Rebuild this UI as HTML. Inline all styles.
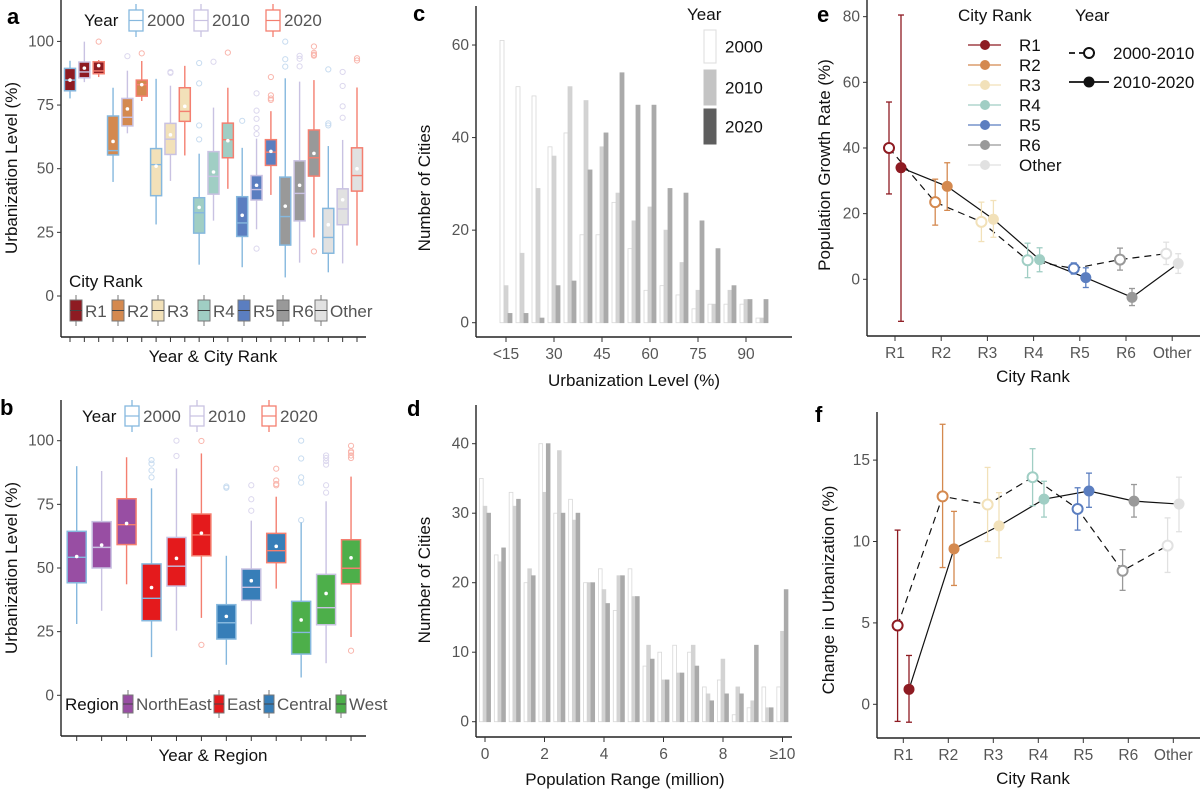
<!DOCTYPE html>
<html><head><meta charset="utf-8"><style>
html,body{margin:0;padding:0;background:#fff;}
svg{display:block;font-family:"Liberation Sans",Arial,sans-serif;}
</style></head><body>
<svg id="fig" width="1200" height="792" viewBox="0 0 1200 792" xmlns="http://www.w3.org/2000/svg"></svg>
<script>
// ---------- Panel a data ----------
const aGroups = ["R1","R1","R1","R2","R2","R2","R3","R3","R3","R4","R4","R4","R5","R5","R5","R6","R6","R6","Other","Other","Other"];
const aMed = [84.8,88,88.4,57.1,70.2,83,51.6,61.6,72.5,32.7,47,61.4,28.7,41.8,56.5,31.2,40.3,54.3,23,34.2,47.3];
const aQ1 = [80.6,85.7,87.3,55.4,66.8,78.5,39.4,55.6,68.6,24.7,40,54.3,23.4,37.7,51.3,20,29.5,47.1,16.8,28,41.2];
const aQ3 = [89.4,91.9,92,70.7,77.6,84.8,57.9,67.8,81.8,38.6,56.7,67.9,39,47.3,61.4,46.7,53.1,65.2,34.4,42.1,58.2];
const aLo = [77.6,84,86,44.8,63.9,76.6,28.1,45.2,55.2,12.3,29.6,42.1,11.3,26.2,39.7,7.3,13.1,23,9.3,12.8,19.8];
const aHi = [92.4,99.9,92.7,81.8,88.5,92.3,85.3,82.6,90.4,55.9,74,81.8,58.2,61.8,72.6,85.5,84.2,84.8,58.9,61.3,81.9];
const aMean = [84.8,89.5,90.5,60.7,73.5,83,51,63.3,74.5,34.8,48.7,61,31.7,43.5,56.8,35.3,43.5,56,28,37.8,50];
const aOut = [[],[],[99.9],[],[94.2],[95.3],[],[88,87.6],[],[91.5,83.5,67,61.5],[92],[95.6],[68.8],[79.6,72.8,69.6,66,63.6,18.6],[86,78.8,77.6,77],[99.9,93,90.1],[94.3,93.2,90.2],[98,95.5,94.8,94.4,17.5],[89,67.8,67],[88,82.5,74.5,70],[93.4,92.5]];
const aTicks = [0,25,50,75,100];
// ---------- Panel b data ----------
const bGroups = ["NorthEast","NorthEast","NorthEast","East","East","East","Central","Central","Central","West","West","West"];
const bMed = [54.2,58.1,67,38.1,50.7,63,28.5,42.4,56.8,24.7,34.4,49.9];
const bQ1 = [44.2,50,59.2,29.3,42.9,54.8,22.1,37.3,52.1,16.2,27.7,43.8];
const bQ3 = [64.4,68.2,77.2,51.6,62,71.2,35.6,49.6,63.6,36.9,47.5,61.1];
const bLo = [28,33.2,43.6,15,25.4,30.4,12,27.9,41.9,7,12.6,22.9];
const bHi = [90,88.1,93.5,81.3,89.1,95,54.8,68.6,78,67.9,76.2,85.9];
const bMean = [54.5,59,67.5,42.3,53.8,63.7,31,45,58.5,29.6,40,54];
const bOut = [[],[],[],[92.4,91,88.3,85.6],[100,94],[99.9,19.8],[82,81.5],[82.5,77,72.5],[89,84.4,83,82.5],[100,93,85.6,83.5,68.8],[94.2,93.2,92,90.6,82.5,79.6],[98,95.8,95.3,94.2,93.2,17.5]];
// ---------- Panel c data ----------
const cTickLabels = ["<15","30","45","60","75","90"];
const c2000 = [61,51,49,38,41,19,19,26,16,7,8,6,3,4,4,4,1];
const c2010 = [8,15,29,36,51,48,38,28,22,25,20,13,7,4,7,5,1];
const c2020 = [2,2,1,8,9,33,41,54,47,47,29,28,22,16,8,5,5];
const cYTicks = [0,20,40,60];
// ---------- Panel d data ----------
const dTickLabels = ["0","2","4","6","8","≥10"];
const d2000 = [35,24,33,20,40,30,32,20,22,16,22,8,10,11,10,5,6,1,2,5,5];
const d2010 = [31,23,31,22,33,39,29,20,19,21,18,11,6,7,11,4,9,5,3,2,13];
const d2020 = [30,25,32,21,40,30,30,20,17,21,18,9,6,7,8,3,4,4,11,2,19];
const dYTicks = [0,10,20,30,40];
// ---------- Panel e data ----------
const ranks = ["R1","R2","R3","R4","R5","R6","Other"];
const eOpen = [40,23.5,17.5,5.8,3.3,6,7.8];
const eOpenLo = [26,16.5,11.5,0.5,1.6,2.8,4.5];
const eOpenHi = [54,30.5,23.5,11,5,9.5,11.3];
const eFill = [34,28.3,18.3,6,0.5,-5.5,4.8];
const eFillLo = [-12.8,21,12.8,2.3,-2.5,-8,1.8];
const eFillHi = [80.5,35.5,24,9.6,3.5,-2.8,7.8];
const eYTicks = [0,20,40,60,80];
// ---------- Panel f data ----------
const fOpen = [4.84,12.77,12.27,13.95,12,8.2,9.75];
const fOpenLo = [-1.05,8.4,10,12.2,10.7,7,8.1];
const fOpenHi = [10.7,17.2,14.55,15.7,13.3,9.5,11.45];
const fFill = [0.92,9.55,10.96,12.6,13.1,12.48,12.3];
const fFillLo = [-1.1,7.3,9,11.5,12.1,11.5,10.6];
const fFillHi = [3,11.85,13,13.7,14.2,13.5,13.95];
const fYTicks = [0,5,10,15];

const rankColor = {R1:"#8e1b22",R2:"#d4894f",R3:"#f2e1b9",R4:"#a0cec4",R5:"#5b7ec0",R6:"#999999",Other:"#e1e1e1"};
const regionColor = {NorthEast:"#984ea3",East:"#e41a1c",Central:"#377eb8",West:"#4daf4a"};
const yearColor = ["#86b8de","#c9c2e2","#f47f70"];
const yearOut = ["#c8dcf0","#dcd8ee","#f9b6ad"];

const svg = document.getElementById('fig');
const NS = "http://www.w3.org/2000/svg";
function mk(tag, attrs, name, parent) {
  const el = document.createElementNS(NS, tag);
  for (const k in attrs) el.setAttribute(k, attrs[k]);
  
  
  (parent || svg).appendChild(el);
  return el;
}
function txt(x, y, s, name, opts) {
  opts = opts || {};
  const t = mk('text', {x:x, y:y, 'font-size':opts.size||15, fill:opts.fill||'#555', 'text-anchor':opts.anchor||'middle', 'font-weight':opts.weight||'normal'}, name);
  if (opts.rot) t.setAttribute('transform', 'rotate(-90 '+x+' '+y+')');
  t.textContent = s;
  return t;
}
function axes(x0, yTop, yBot, xRight, name) {
  mk('line', {x1:x0, y1:yTop, x2:x0, y2:yBot, stroke:'#222', 'stroke-width':1.4}, name+'-y-axis');
  mk('line', {x1:x0, y1:yBot, x2:xRight, y2:yBot, stroke:'#222', 'stroke-width':1.4}, name+'-x-axis');
}
function yTicksDraw(x0, ticks, yf, name) {
  ticks.forEach(v => {
    mk('line', {x1:x0-4, y1:yf(v), x2:x0, y2:yf(v), stroke:'#333', 'stroke-width':1}, name+'-y-tick');
    txt(x0-7, yf(v)+5, String(v), name+'-y-tick-label', {anchor:'end', size:15.5});
  });
}

function boxPanel(p) {
  const yf = v => p.y0 - v * p.k;
  axes(p.ax, p.axTop, p.axBot, p.axRight, p.name);
  yTicksDraw(p.ax, aTicks, yf, p.name);
  const n = p.med.length;
  for (let i = 0; i < n; i++) {
    const cx = p.x0 + i * p.dx, yr = i % 3, col = yearColor[yr], fill = p.fill[p.groups[i]];
    mk('line', {x1:cx, y1:p.axBot, x2:cx, y2:p.axBot+5, stroke:'#333', 'stroke-width':1}, p.name+'-x-tick');
    p.out[i].forEach(v => mk('circle', {cx:cx, cy:yf(v), r:2.6, fill:'none', stroke:yearOut[yr], 'stroke-width':1}, p.name+'-outlier'));
    mk('line', {x1:cx, y1:yf(p.hi[i]), x2:cx, y2:yf(p.q3[i]), stroke:col, 'stroke-width':1.4}, p.name+'-whisker-upper');
    mk('line', {x1:cx, y1:yf(p.q1[i]), x2:cx, y2:yf(p.lo[i]), stroke:col, 'stroke-width':1.4}, p.name+'-whisker-lower');
    mk('rect', {x:cx-p.bw/2, y:yf(p.q3[i]), width:p.bw, height:yf(p.q1[i])-yf(p.q3[i]), fill:fill, stroke:col, 'stroke-width':1.5}, p.name+'-box');
    mk('line', {x1:cx-p.bw/2, y1:yf(p.med[i]), x2:cx+p.bw/2, y2:yf(p.med[i]), stroke:col, 'stroke-width':1.4}, p.name+'-median');
    mk('circle', {cx:cx, cy:yf(p.mean[i]), r:1.8, fill:'#fff'}, p.name+'-mean-dot');
  }
}
function yearKey(x, yT, yB, col, name) {
  const ym = (yT + yB) / 2;
  mk('line', {x1:x+7, y1:yT-6, x2:x+7, y2:yB+6, stroke:col, 'stroke-width':1.3}, name);
  mk('rect', {x:x, y:yT, width:14, height:yB-yT, fill:'#fff', stroke:col, 'stroke-width':1.3}, name);
  mk('line', {x1:x, y1:ym, x2:x+14, y2:ym, stroke:col, 'stroke-width':1.2}, name);
}
function fillKey(x, yT, yB, w, col, name) {
  const ym = (yT + yB) / 2;
  mk('line', {x1:x+w/2, y1:yT-5, x2:x+w/2, y2:yB+5, stroke:'#777', 'stroke-width':1}, name);
  mk('rect', {x:x, y:yT, width:w, height:yB-yT, fill:col, stroke:'#777', 'stroke-width':1}, name);
  mk('line', {x1:x, y1:ym, x2:x+w, y2:ym, stroke:'#444', 'stroke-width':1}, name);
}

// Panel a
boxPanel({name:'panel-a', y0:296, k:2.546, ax:61, axTop:0, axBot:337, axRight:366, x0:70, dx:14.35, bw:11,
  med:aMed, q1:aQ1, q3:aQ3, lo:aLo, hi:aHi, mean:aMean, out:aOut, groups:aGroups, fill:rankColor});
txt(7, 24, 'a', 'panel-a-letter', {anchor:'start', size:22, weight:'bold', fill:'#000'});
txt(213, 362, 'Year & City Rank', 'panel-a-x-title', {size:17, fill:'#111'});
txt(17, 168, 'Urbanization Level (%)', 'panel-a-y-title', {size:17, fill:'#111', rot:true});
txt(84, 26, 'Year', 'panel-a-year-legend-title', {anchor:'start', size:17, fill:'#111'});
[[129,'2000'],[194,'2010'],[266,'2020']].forEach((e,i) => {
  yearKey(e[0], 10, 31, yearColor[i], 'panel-a-year-legend-key');
  txt(e[0]+18, 26, e[1], 'panel-a-year-legend-label', {anchor:'start', size:17});
});
txt(69, 287, 'City Rank', 'panel-a-rank-legend-title', {anchor:'start', size:17, fill:'#111'});
[[70,'R1'],[112,'R2'],[152,'R3'],[198,'R4'],[238,'R5'],[277,'R6'],[315,'Other']].forEach(e => {
  fillKey(e[0], 300, 321, 12, rankColor[e[1]], 'panel-a-rank-legend-key');
  txt(e[0]+15, 317, e[1], 'panel-a-rank-legend-label', {anchor:'start', size:17});
});

// Panel b
boxPanel({name:'panel-b', y0:695.3, k:2.546, ax:61, axTop:400, axBot:736, axRight:366, x0:76.7, dx:24.94, bw:19,
  med:bMed, q1:bQ1, q3:bQ3, lo:bLo, hi:bHi, mean:bMean, out:bOut, groups:bGroups, fill:regionColor});
txt(0, 415, 'b', 'panel-b-letter', {anchor:'start', size:22, weight:'bold', fill:'#000'});
txt(213, 761, 'Year & Region', 'panel-b-x-title', {size:17, fill:'#111'});
txt(17, 568, 'Urbanization Level (%)', 'panel-b-y-title', {size:17, fill:'#111', rot:true});
txt(82, 422, 'Year', 'panel-b-year-legend-title', {anchor:'start', size:17, fill:'#111'});
[[125,'2000'],[190,'2010'],[262,'2020']].forEach((e,i) => {
  yearKey(e[0], 406, 426, yearColor[i], 'panel-b-year-legend-key');
  txt(e[0]+18, 422, e[1], 'panel-b-year-legend-label', {anchor:'start', size:17});
});
txt(65, 710, 'Region', 'panel-b-region-legend-title', {anchor:'start', size:17, fill:'#111'});
[[123,'NorthEast'],[214,'East'],[264,'Central'],[336,'West']].forEach(e => {
  fillKey(e[0], 695, 713, 10, regionColor[e[1]], 'panel-b-region-legend-key');
  txt(e[0]+13, 710, e[1], 'panel-b-region-legend-label', {anchor:'start', size:17});
});

function histPanel(p) {
  const yf = v => p.y0 - v * p.k;
  axes(p.ax, p.axTop, p.axBot, p.axRight, p.name);
  yTicksDraw(p.ax, p.yTicks, yf, p.name);
  const series = [p.s0, p.s1, p.s2];
  const fills = ['#ffffff', '#d3d3d3', '#aaaaaa'];
  const strokes = ['#d8d8d8', '#d3d3d3', '#aaaaaa'];
  for (let i = 0; i < p.s0.length; i++) {
    const cx = p.x0 + i * p.dx;
    series.forEach((s, j) => {
      const x = cx + (j - 1.5) * p.bw;
      mk('rect', {x:x, y:yf(s[i]), width:p.bw, height:yf(0)-yf(s[i]), fill:fills[j], stroke:strokes[j], 'stroke-width':0.8}, p.name+'-bar-'+['2000','2010','2020'][j]);
    });
  }
  p.xLabels.forEach((l, i) => {
    const x = p.lx0 + i * p.ldx;
    mk('line', {x1:x, y1:p.axBot, x2:x, y2:p.axBot+5, stroke:'#333', 'stroke-width':1}, p.name+'-x-tick');
    txt(x, p.axBot+22, l, p.name+'-x-tick-label', {size:15.5});
  });
}
histPanel({name:'panel-c', y0:322.7, k:4.628, ax:476, axTop:6, axBot:337, axRight:792, x0:506, dx:16, bw:4,
  s0:c2000, s1:c2010, s2:c2020, yTicks:cYTicks, xLabels:cTickLabels, lx0:506, ldx:48});
txt(413, 21, 'c', 'panel-c-letter', {anchor:'start', size:22, weight:'bold', fill:'#000'});
txt(634, 386, 'Urbanization Level (%)', 'panel-c-x-title', {size:17, fill:'#111'});
txt(430, 188, 'Number of Cities', 'panel-c-y-title', {size:17, fill:'#111', rot:true});
txt(687, 20, 'Year', 'panel-c-legend-title', {anchor:'start', size:17, fill:'#111'});
[[30,63,'#ffffff','#ddd','2000'],[70,105,'#c4c4c4','#c4c4c4','2010'],[109,144,'#5e5e5e','#5e5e5e','2020']].forEach(e => {
  mk('rect', {x:704, y:e[0], width:12, height:e[1]-e[0], fill:e[2], stroke:e[3], 'stroke-width':1}, 'panel-c-legend-key');
  txt(725, (e[0]+e[1])/2+6, e[4], 'panel-c-legend-label', {anchor:'start', size:17, fill:'#111'});
});

histPanel({name:'panel-d', y0:721.7, k:6.95, ax:476, axTop:405, axBot:737, axRight:792, x0:485, dx:14.87, bw:3.7,
  s0:d2000, s1:d2010, s2:d2020, yTicks:dYTicks, xLabels:dTickLabels, lx0:485, ldx:59.5});
txt(407, 416, 'd', 'panel-d-letter', {anchor:'start', size:22, weight:'bold', fill:'#000'});
txt(625, 785, 'Population Range (million)', 'panel-d-x-title', {size:17, fill:'#111'});
txt(430, 580, 'Number of Cities', 'panel-d-y-title', {size:17, fill:'#111', rot:true});

function pointPanel(p) {
  const yf = v => p.y0 - v * p.k;
  axes(p.ax, p.axTop, p.axBot, p.axRight, p.name);
  yTicksDraw(p.ax, p.yTicks, yf, p.name);
  const xo = i => p.x0 + i * p.dx - p.off, xf = i => p.x0 + i * p.dx + p.off;
  ranks.forEach((r, i) => {
    const x = p.x0 + i * p.dx;
    mk('line', {x1:x, y1:p.axBot, x2:x, y2:p.axBot+5, stroke:'#333', 'stroke-width':1}, p.name+'-x-tick');
    txt(x, p.axBot+22, r, p.name+'-x-tick-label', {size:15.5});
  });
  let d1 = '', d2 = '';
  ranks.forEach((r, i) => { d1 += (i ? 'L' : 'M') + xo(i) + ' ' + yf(p.open[i]); d2 += (i ? 'L' : 'M') + xf(i) + ' ' + yf(p.fill[i]); });
  mk('path', {d:d1, fill:'none', stroke:'#111', 'stroke-width':1.2, 'stroke-dasharray':'7 5'}, p.name+'-line-2000-2010');
  mk('path', {d:d2, fill:'none', stroke:'#111', 'stroke-width':1.2}, p.name+'-line-2010-2020');
  ranks.forEach((r, i) => {
    const c = rankColor[r];
    [[xo(i), p.openLo[i], p.openHi[i], 'open'], [xf(i), p.fillLo[i], p.fillHi[i], 'filled']].forEach(e => {
      mk('line', {x1:e[0], y1:yf(e[1]), x2:e[0], y2:yf(e[2]), stroke:c, 'stroke-width':1.3}, p.name+'-errorbar-'+e[3]);
      mk('line', {x1:e[0]-3, y1:yf(e[1]), x2:e[0]+3, y2:yf(e[1]), stroke:c, 'stroke-width':1.3}, p.name+'-errorbar-cap');
      mk('line', {x1:e[0]-3, y1:yf(e[2]), x2:e[0]+3, y2:yf(e[2]), stroke:c, 'stroke-width':1.3}, p.name+'-errorbar-cap');
    });
    mk('circle', {cx:xo(i), cy:yf(p.open[i]), r:5, fill:'#fff', stroke:c, 'stroke-width':2}, p.name+'-point-2000-2010');
    mk('circle', {cx:xf(i), cy:yf(p.fill[i]), r:5.5, fill:c}, p.name+'-point-2010-2020');
  });
}
pointPanel({name:'panel-e', y0:279.3, k:3.283, ax:867, axTop:0, axBot:336, axRight:1200, x0:895, dx:46.2, off:6,
  open:eOpen, openLo:eOpenLo, openHi:eOpenHi, fill:eFill, fillLo:eFillLo, fillHi:eFillHi, yTicks:eYTicks});
txt(817, 22, 'e', 'panel-e-letter', {anchor:'start', size:22, weight:'bold', fill:'#000'});
txt(1033, 382, 'City Rank', 'panel-e-x-title', {size:17, fill:'#111'});
txt(830, 165, 'Population Growth Rate (%)', 'panel-e-y-title', {size:17, fill:'#111', rot:true});
txt(958, 21, 'City Rank', 'panel-e-rank-legend-title', {anchor:'start', size:17, fill:'#111'});
txt(1075, 21, 'Year', 'panel-e-year-legend-title', {anchor:'start', size:17, fill:'#111'});
ranks.forEach((r, i) => {
  const y = 45 + i * 20;
  mk('line', {x1:968, y1:y, x2:1001, y2:y, stroke:rankColor[r], 'stroke-width':1.3}, 'panel-e-rank-legend-key');
  mk('circle', {cx:985, cy:y, r:5, fill:rankColor[r]}, 'panel-e-rank-legend-key');
  txt(1019, y+6, r, 'panel-e-rank-legend-label', {anchor:'start', size:17, fill:'#111'});
});
mk('line', {x1:1069, y1:53, x2:1098, y2:53, stroke:'#111', 'stroke-width':1.8, 'stroke-dasharray':'6 4'}, 'panel-e-year-legend-key');
mk('circle', {cx:1089, cy:53, r:5, fill:'#fff', stroke:'#111', 'stroke-width':2}, 'panel-e-year-legend-key');
txt(1113, 59, '2000-2010', 'panel-e-year-legend-label', {anchor:'start', size:17, fill:'#111'});
mk('line', {x1:1069, y1:82, x2:1109, y2:82, stroke:'#111', 'stroke-width':1.8}, 'panel-e-year-legend-key');
mk('circle', {cx:1089, cy:82, r:5.5, fill:'#111'}, 'panel-e-year-legend-key');
txt(1113, 88, '2010-2020', 'panel-e-year-legend-label', {anchor:'start', size:17, fill:'#111'});

pointPanel({name:'panel-f', y0:704.3, k:16.28, ax:877, axTop:412, axBot:738, axRight:1200, x0:903.3, dx:45, off:5.7,
  open:fOpen, openLo:fOpenLo, openHi:fOpenHi, fill:fFill, fillLo:fFillLo, fillHi:fFillHi, yTicks:fYTicks});
txt(815, 422, 'f', 'panel-f-letter', {anchor:'start', size:22, weight:'bold', fill:'#000'});
txt(1033, 784, 'City Rank', 'panel-f-x-title', {size:17, fill:'#111'});
txt(834, 590, 'Change in Urbanization (%)', 'panel-f-y-title', {size:17, fill:'#111', rot:true});
</script>
</body></html>
